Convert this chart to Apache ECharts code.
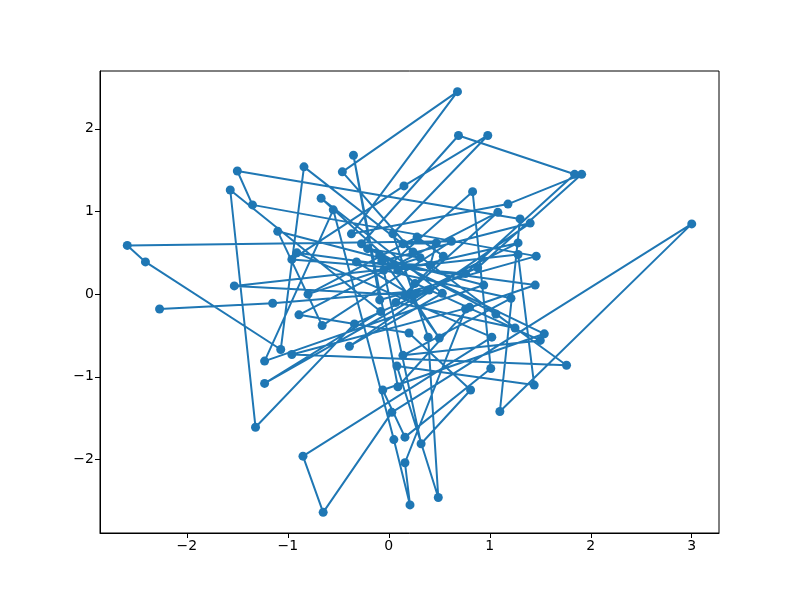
<!DOCTYPE html>
<html>
<head>
<meta charset="utf-8">
<script src="https://cdn.jsdelivr.net/npm/echarts@6/dist/echarts.min.js"></script>
<style>html,body{margin:0;padding:0;background:#fff}#c{width:799px;height:599px}</style>
</head>
<body>
<div id="c"></div>
<script>
const xValues = [-2.27,-1.15,0.40,-1.23,-0.08,-1.57,-1.32,-0.34,0.88,1.91,1.18,-0.37,0.68,-0.46,0.24,-0.84,-1.07,-2.41,-2.59,0.62,
  -0.66,-1.10,0.94,-1.23,-0.55,0.05,0.21,0.16,0.76,1.45,-0.91,1.02,-0.85,-0.65,0.03,3.00,1.10,1.30,-1.50,-1.35,
  1.46,-0.09,-0.35,0.09,0.80,-0.96,1.76,1.06,-0.27,0.69,1.84,0.76,-0.96,0.15,0.98,0.04,0.39,0.49,0.08,1.44,
  1.28,-1.53,0.16,1.08,-0.89,0.20,0.81,0.32,-0.07,1.40,-0.39,0.53,-0.67,0.26,1.50,0.14,1.21,-0.05,0.83,1.01,
  0.16,-0.06,1.54,-0.21,0.31,-0.80,0.28,0.54,0.07,1.25,0.14,0.47,0.41,-0.32,0.22,0.50,-0.09,0.09,1.28,0.26];
const yValues = [-0.18,-0.11,0.05,-1.08,-0.21,1.26,-1.61,-0.36,0.32,1.45,1.09,0.73,2.45,1.48,0.51,1.54,-0.67,0.39,0.59,0.64,
  -0.38,0.76,0.11,-0.81,1.02,-1.76,-2.55,-2.04,-0.18,0.11,0.50,-0.52,-1.96,-2.64,-1.43,0.85,-1.42,0.91,1.49,1.08,
  0.46,-0.07,1.68,-1.12,-0.16,-0.73,-0.86,-0.24,0.61,1.92,1.45,0.25,0.42,1.31,1.92,0.73,-0.52,-2.46,-0.87,-1.10,
  0.48,0.10,-0.01,0.99,-0.25,-0.47,-1.16,-1.81,0.40,0.86,-0.63,0.01,1.16,0.13,-0.56,-0.74,-0.05,0.29,1.24,-0.90,
  -1.73,-1.16,-0.48,0.55,0.44,0.00,0.69,0.46,-0.10,-0.41,0.61,0.62,0.35,0.39,-0.01,-0.53,0.47,0.29,0.62,0.00];
const xTicks = [-2,-1,0,1,2,3];
const yTicks = [-2,-1,0,1,2];

const points = xValues.map((x,i)=>[x,yValues[i]]);
const fmt = v => String(v).replace('-', '\u2212');
const chart = echarts.init(document.getElementById('c'));
const axisCommon = {
  type:'value', scale:true,
  splitLine:{show:false},
  axisLine:{show:true,onZero:false,lineStyle:{color:'#000',width:1}},
  axisTick:{show:true,inside:false,length:5,lineStyle:{color:'#000',width:1}},
  axisLabel:{color:'#000',fontSize:14,fontFamily:'DejaVu Sans',margin:6,formatter:fmt}
};
chart.setOption({
  animation:false,
  backgroundColor:'#fff',
  grid:{left:100,right:80,top:71,bottom:66,show:true,borderColor:'#000',borderWidth:1,containLabel:false},
  xAxis:Object.assign({},axisCommon,{min:-2.86,max:3.27,
    axisTick:Object.assign({},axisCommon.axisTick,{customValues:xTicks}),
    axisLabel:Object.assign({},axisCommon.axisLabel,{customValues:xTicks})}),
  yAxis:Object.assign({},axisCommon,{min:-2.89,max:2.70,
    axisTick:Object.assign({},axisCommon.axisTick,{customValues:yTicks}),
    axisLabel:Object.assign({},axisCommon.axisLabel,{customValues:yTicks})}),
  series:[{
    type:'line', data:points,
    symbol:'circle', symbolSize:9, showSymbol:true,
    lineStyle:{color:'#1f77b4',width:2},
    itemStyle:{color:'#1f77b4'},
    emphasis:{disabled:true}
  }]
});
</script>
</body>
</html>
